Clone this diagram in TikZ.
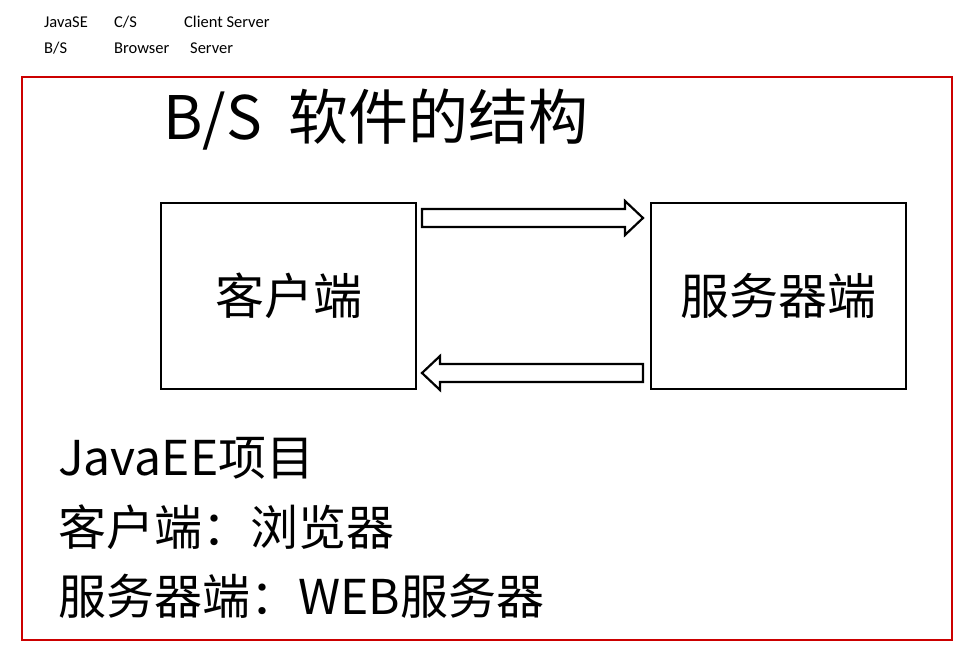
\documentclass[tikz,border=0pt]{standalone}
\usepackage{fontspec}
\setmainfont{Carlito}
\newfontfamily\cjk{Noto Sans CJK SC}
\begin{document}
\begin{tikzpicture}[x=1pt,y=-1pt,
  small/.style={anchor=west,inner sep=0pt,font=\fontsize{16.5}{16.5}\selectfont},
  box/.style={draw,line width=1.3pt,minimum width=255pt,minimum height=186pt,font=\cjk\fontsize{49}{49}\selectfont},
  big/.style={anchor=west,inner sep=0pt,font=\cjk\fontsize{48}{48}\selectfont},
  arr/.style={draw,line width=2.2pt,line join=miter}]
\useasboundingbox (0,0) rectangle (964,658);
\node[small] (t1) at (44,22) {JavaSE};
\node[small] (t2) at (114,22) {C/S};
\node[small] (t3) at (184,22) {Client Server};
\node[small] (t4) at (44,48) {B/S};
\node[small] (t5) at (114,48) {Browser};
\node[small] (t6) at (190,48) {Server};
\draw[red!80!black,line width=1.5pt] (22,77) rectangle (952,640);
\node[big,font=\cjk\fontsize{60}{60}\selectfont] (title) at (163,120) {B/S\ \ 软件的结构};
\node[box] (c) at (288.5,296) {客户端};
\node[box] (s) at (778.5,296) {服务器端};
\draw[arr] (422,209) -- (625,209) -- (625,201) -- (643,218) -- (625,235) -- (625,227) -- (422,227) -- cycle;
\draw[arr] (643,364) -- (440,364) -- (440,356) -- (422,373) -- (440,390) -- (440,382) -- (643,382) -- cycle;
\node[big] (l1) at (58,458) {JavaEE项目};
\node[big] (l2) at (58,527) {客户端：浏览器};
\node[big] (l3) at (58,596) {服务器端：WEB服务器};
\end{tikzpicture}
\end{document}
